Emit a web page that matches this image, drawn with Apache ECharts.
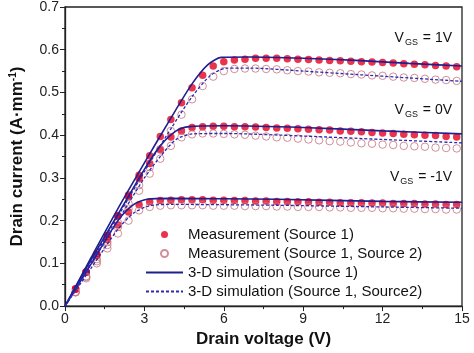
<!DOCTYPE html>
<html>
<head>
<meta charset="utf-8">
<script src="https://cdn.jsdelivr.net/npm/echarts@6/dist/echarts.min.js"></script>
<style>
  html, body { margin: 0; padding: 0; background: #fff; }
  #chart { width: 474px; height: 353px; }
</style>
</head>
<body>
<div id="chart"></div>
<script>
// measured drain voltages (V)
var vMeas = [0.4, 0.8, 1.2, 1.6, 2.0, 2.4, 2.8, 3.2, 3.6, 4.0, 4.4, 4.8, 5.2, 5.6, 6.0, 6.4, 6.8, 7.2, 7.6,
  8.0, 8.4, 8.8, 9.2, 9.6, 10.0, 10.4, 10.8, 11.2, 11.6, 12.0, 12.4, 12.8, 13.2, 13.6, 14.0, 14.4, 14.8];

// Measurement (Source 1)
var meas1_p1 = [0.04, 0.08, 0.122, 0.165, 0.212, 0.26, 0.306, 0.352, 0.397, 0.437, 0.476, 0.511, 0.54, 0.562, 0.572, 0.576, 0.578, 0.58, 0.58,
  0.58, 0.579, 0.578, 0.577, 0.576, 0.575, 0.574, 0.573, 0.572, 0.571, 0.57, 0.569, 0.567, 0.566, 0.565, 0.563, 0.562, 0.56];
var meas1_0 = [0.04, 0.08, 0.12, 0.163, 0.21, 0.256, 0.298, 0.334, 0.366, 0.396, 0.41, 0.418, 0.42, 0.421, 0.421, 0.42, 0.42, 0.419, 0.418,
  0.417, 0.416, 0.415, 0.414, 0.413, 0.412, 0.41, 0.409, 0.408, 0.406, 0.405, 0.404, 0.402, 0.401, 0.4, 0.399, 0.397, 0.396];
var meas1_m1 = [0.04, 0.08, 0.118, 0.155, 0.19, 0.22, 0.237, 0.244, 0.247, 0.248, 0.249, 0.249, 0.249, 0.248, 0.248, 0.247, 0.247, 0.246, 0.246,
  0.245, 0.245, 0.244, 0.244, 0.243, 0.243, 0.242, 0.242, 0.242, 0.241, 0.241, 0.24, 0.24, 0.24, 0.239, 0.239, 0.238, 0.238];

// Measurement (Source 1, Source 2)
var meas2_p1 = [0.033, 0.07, 0.11, 0.15, 0.195, 0.24, 0.283, 0.325, 0.367, 0.41, 0.448, 0.484, 0.515, 0.537, 0.55, 0.555, 0.556, 0.556, 0.555,
  0.554, 0.552, 0.55, 0.549, 0.547, 0.546, 0.545, 0.543, 0.542, 0.54, 0.539, 0.537, 0.535, 0.534, 0.532, 0.53, 0.529, 0.527];
var meas2_0 = [0.033, 0.068, 0.105, 0.143, 0.185, 0.228, 0.27, 0.31, 0.345, 0.375, 0.395, 0.402, 0.404, 0.404, 0.403, 0.402, 0.401, 0.399, 0.397,
  0.395, 0.394, 0.392, 0.39, 0.388, 0.386, 0.385, 0.383, 0.381, 0.38, 0.378, 0.377, 0.375, 0.374, 0.373, 0.371, 0.37, 0.369];
var meas2_m1 = [0.032, 0.065, 0.1, 0.135, 0.17, 0.2, 0.224, 0.232, 0.235, 0.236, 0.236, 0.236, 0.236, 0.235, 0.235, 0.235, 0.234, 0.234, 0.234,
  0.233, 0.233, 0.232, 0.232, 0.232, 0.231, 0.231, 0.23, 0.23, 0.23, 0.229, 0.229, 0.228, 0.228, 0.227, 0.227, 0.226, 0.226];

// 3-D simulation curves [V, I]
var simV_p1 = [0, 1, 2, 3, 4, 4.8, 5.4, 5.9, 7, 9, 11, 13, 15];
var sim1_p1 = [0, 0.115, 0.228, 0.335, 0.44, 0.52, 0.565, 0.582, 0.583, 0.58, 0.575, 0.568, 0.562];
var simV2_p1 = [0, 1, 2, 3, 4, 4.8, 5.5, 6.1, 7, 9, 11, 13, 15];
var sim2_p1 = [0, 0.105, 0.21, 0.315, 0.415, 0.49, 0.54, 0.557, 0.557, 0.55, 0.542, 0.534, 0.526];
var simV_0 = [0, 1, 2, 3, 3.6, 4.2, 4.7, 6, 9, 12, 15];
var sim1_0 = [0, 0.11, 0.215, 0.32, 0.375, 0.41, 0.42, 0.422, 0.418, 0.41, 0.403];
var simV2_0 = [0, 1, 2, 3, 3.6, 4.2, 4.8, 6, 9, 12, 15];
var sim2_0 = [0, 0.1, 0.2, 0.3, 0.35, 0.39, 0.403, 0.404, 0.398, 0.39, 0.382];
var simV_m1 = [0, 1, 2, 2.6, 3.1, 4, 8, 12, 15];
var sim1_m1 = [0, 0.1, 0.2, 0.238, 0.25, 0.252, 0.25, 0.245, 0.243];
var simV2_m1 = [0, 1, 2, 2.6, 3.2, 4, 8, 12, 15];
var sim2_m1 = [0, 0.09, 0.18, 0.218, 0.235, 0.238, 0.236, 0.232, 0.229];

var names = ['Measurement (Source 1)', 'Measurement (Source 1, Source 2)',
  '3-D simulation (Source 1)', '3-D simulation (Source 1, Source2)'];
var vgsLabels = ['1V', '0V', '-1V'];

function zip(xs, ys) {
  return xs.map(function (x, i) { return [x, ys[i]]; });
}

var chart = echarts.init(document.getElementById('chart'));
var font = 'Liberation Sans, Arial, sans-serif';

function filled(data) {
  return {
    name: names[0], type: 'scatter', data: zip(vMeas, data), symbol: 'circle', symbolSize: 7.5, z: 2,
    itemStyle: { color: '#e6001e' }
  };
}
function hollow(data) {
  return {
    name: names[1], type: 'scatter', data: zip(vMeas, data), symbol: 'circle', symbolSize: 7.5, z: 2,
    itemStyle: { color: 'rgba(255,255,255,0)', borderColor: '#c4737c', borderWidth: 1 }
  };
}
function solid(xs, ys) {
  return {
    name: names[2], type: 'line', data: zip(xs, ys), symbol: 'none', smooth: 0.25, z: 3,
    lineStyle: { color: '#1f1f8f', width: 1.6 }, itemStyle: { color: '#1f1f8f' }
  };
}
function dashed(xs, ys) {
  return {
    name: names[3], type: 'line', data: zip(xs, ys), symbol: 'none', smooth: 0.25, z: 3,
    lineStyle: { color: '#2a2ab0', width: 1.3, type: [3, 2] }, itemStyle: { color: '#2a2ab0' }
  };
}

var vgsText = function (lab, y) {
  return {
    type: 'text', right: 22, top: y, z: 10,
    style: {
      text: '{a|V}{b|GS}{a| = ' + lab + '}',
      rich: {
        a: { fontFamily: font, fontSize: 14, fill: '#111' },
        b: { fontFamily: font, fontSize: 9, fill: '#111', padding: [9, 1, 0, 1] }
      }
    }
  };
};

var option = {
  animation: false,
  grid: { left: 63, right: 12, top: 6, bottom: 45, show: true, borderColor: '#222', borderWidth: 1.3 },
  xAxis: {
    type: 'value', min: 0, max: 15, interval: 3,
    name: 'Drain voltage (V)', nameLocation: 'middle', nameGap: 24,
    nameTextStyle: { fontFamily: font, fontSize: 17, fontWeight: 'bold', color: '#111' },
    axisLine: { lineStyle: { color: '#222', width: 1.3 } },
    axisTick: { show: true, inside: false, length: 5, lineStyle: { color: '#222' } },
    minorTick: { show: true, splitNumber: 2, length: 3, lineStyle: { color: '#222' } },
    axisLabel: { fontFamily: font, fontSize: 14, color: '#222', margin: 6 },
    splitLine: { show: false }
  },
  yAxis: {
    type: 'value', min: 0, max: 0.7, interval: 0.1,
    name: '{n|Drain current (A·mm}{s|-1}{n|)}', nameLocation: 'middle', nameGap: 38,
    nameTextStyle: {
      rich: {
        n: { fontFamily: font, fontSize: 17, fontWeight: 'bold', color: '#111' },
        s: { fontFamily: font, fontSize: 10, fontWeight: 'bold', color: '#111', padding: [0, 0, 9, 0] }
      }
    },
    axisLine: { show: true, lineStyle: { color: '#222', width: 1.3 } },
    axisTick: { show: true, inside: false, length: 5, lineStyle: { color: '#222' } },
    minorTick: { show: true, splitNumber: 2, length: 3, lineStyle: { color: '#222' } },
    axisLabel: {
      fontFamily: font, fontSize: 14, color: '#222', margin: 6,
      formatter: function (v) { return v.toFixed(1); }
    },
    splitLine: { show: false }
  },
  legend: {
    orient: 'vertical', left: 140, top: 222, itemGap: 4, itemWidth: 37, itemHeight: 7,
    textStyle: { fontFamily: font, fontSize: 15, color: '#111' },
    data: [
      { name: names[0], icon: 'circle' },
      { name: names[1], icon: 'circle' },
      { name: names[2], itemStyle: { opacity: 0 } },
      { name: names[3], itemStyle: { opacity: 0 } }
    ],
    selectedMode: false
  },
  graphic: [vgsText(vgsLabels[0], 31), vgsText(vgsLabels[1], 103), vgsText(vgsLabels[2], 170)],
  series: [
    filled(meas1_p1), filled(meas1_0), filled(meas1_m1),
    hollow(meas2_p1), hollow(meas2_0), hollow(meas2_m1),
    solid(simV_p1, sim1_p1), solid(simV_0, sim1_0), solid(simV_m1, sim1_m1),
    dashed(simV2_p1, sim2_p1), dashed(simV2_0, sim2_0), dashed(simV2_m1, sim2_m1)
  ]
};

chart.setOption(option);
</script>
</body>
</html>
